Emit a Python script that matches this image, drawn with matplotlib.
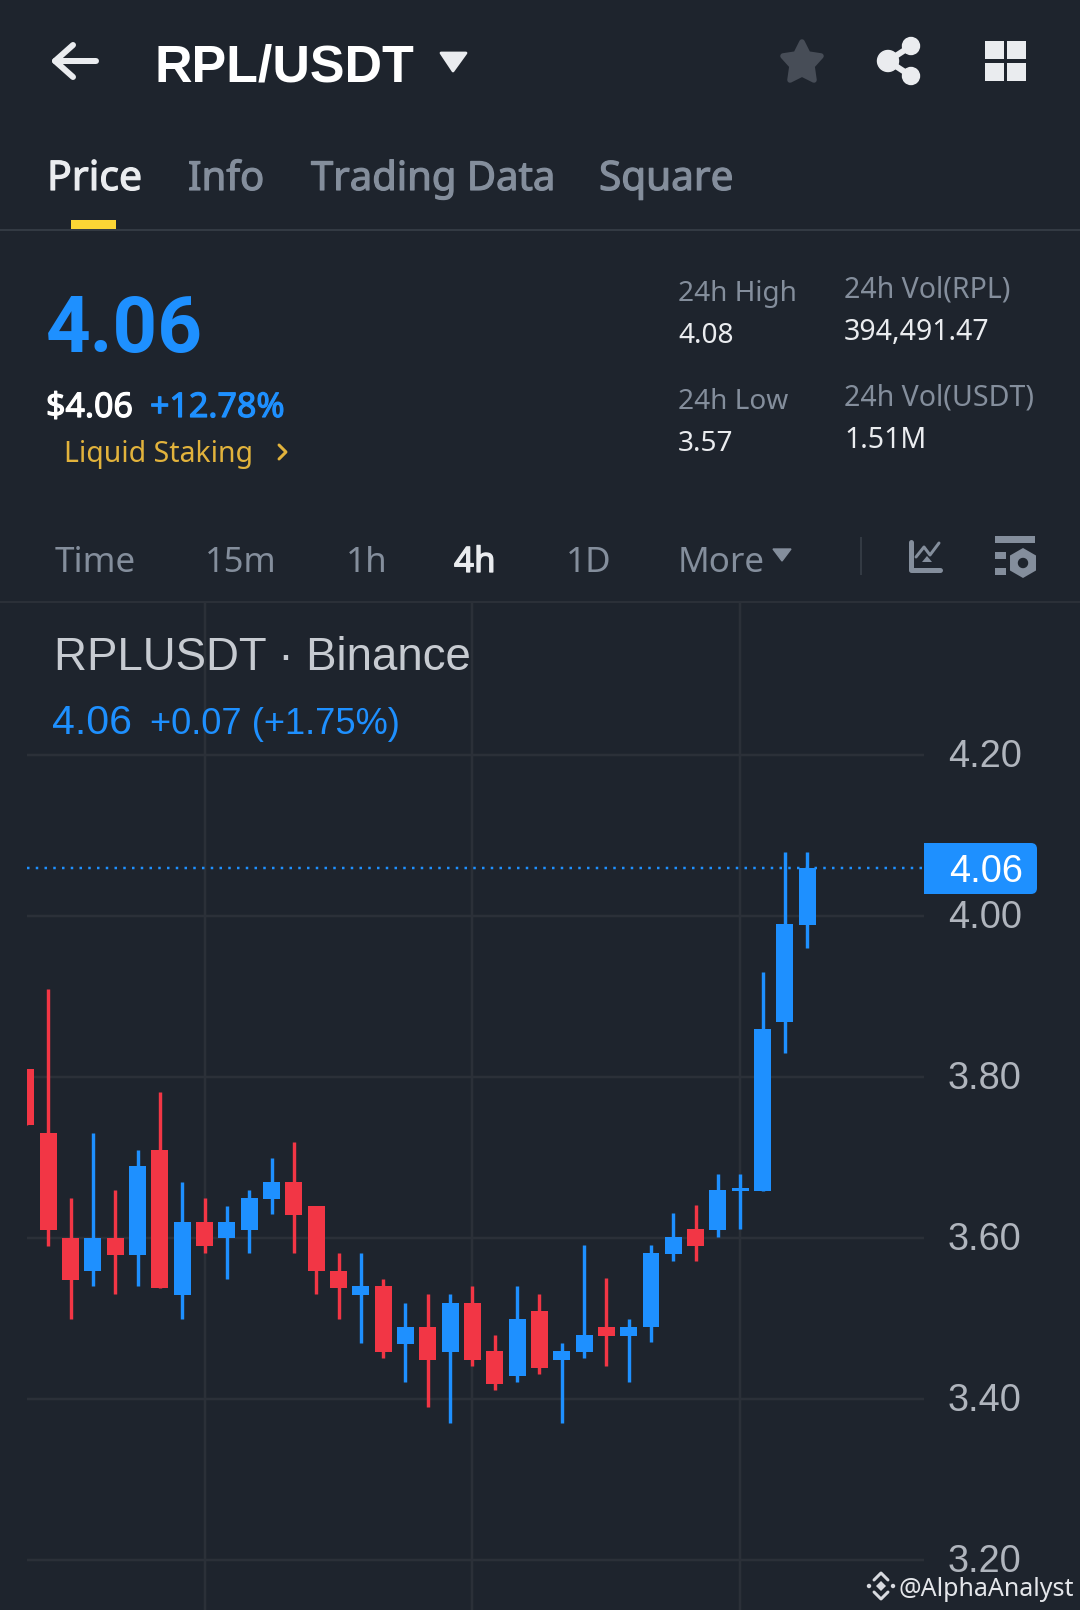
import matplotlib
matplotlib.use("Agg")
import matplotlib.pyplot as plt
import matplotlib.patheffects as pe
from matplotlib.patches import Polygon, Rectangle, Circle, RegularPolygon, FancyBboxPatch
from matplotlib.transforms import ScaledTranslation

# candles
opens = [3.81, 3.73, 3.60, 3.559, 3.60, 3.579, 3.71, 3.529, 3.62, 3.60, 3.61, 3.649,
         3.67, 3.64, 3.559, 3.529, 3.54, 3.469, 3.49, 3.459, 3.52, 3.46, 3.429, 3.51,
         3.449, 3.459, 3.49, 3.479, 3.489, 3.58, 3.611, 3.61, 3.658, 3.659, 3.869, 3.989]
closes = [3.74, 3.61, 3.548, 3.60, 3.579, 3.69, 3.538, 3.62, 3.59, 3.62, 3.65, 3.67,
          3.629, 3.559, 3.538, 3.54, 3.459, 3.49, 3.449, 3.52, 3.449, 3.419, 3.50, 3.439,
          3.46, 3.48, 3.479, 3.49, 3.581, 3.601, 3.59, 3.66, 3.662, 3.86, 3.99, 4.06]
highs = [3.81, 3.91, 3.65, 3.73, 3.66, 3.71, 3.781, 3.67, 3.65, 3.64, 3.66, 3.70,
         3.72, 3.64, 3.581, 3.581, 3.549, 3.52, 3.53, 3.53, 3.54, 3.48, 3.54, 3.53,
         3.47, 3.591, 3.55, 3.50, 3.591, 3.631, 3.641, 3.68, 3.68, 3.931, 4.08, 4.08]
lows = [3.74, 3.59, 3.50, 3.54, 3.53, 3.54, 3.538, 3.50, 3.581, 3.549, 3.581, 3.63,
        3.581, 3.53, 3.50, 3.47, 3.451, 3.421, 3.39, 3.37, 3.441, 3.411, 3.421, 3.431,
        3.37, 3.451, 3.441, 3.421, 3.471, 3.571, 3.571, 3.601, 3.611, 3.659, 3.83, 3.961]
price_ticks = [3.20, 3.40, 3.60, 3.80, 4.00, 4.20]
day_ticks = [8, 20, 32]
last_price = 4.06

BG = "#1E242D"
BLUE = "#1E90FF"
RED = "#F23645"
GREY = "#848E9C"
WHITE = "#EAECEF"
GRID = "#2B3038"

W, H = 1080, 1610
fig = plt.figure(figsize=(W / 100, H / 100), dpi=100, facecolor=BG)


def px(v):
    return v * 0.72


def pixel_axes(z):
    a = fig.add_axes([0, 0, 1, 1], facecolor="none", zorder=z)
    a.set_xlim(0, W)
    a.set_ylim(H, 0)
    a.axis("off")
    return a


# overlays in screenshot pixels for the app chrome, one under the chart, one over it
ui = pixel_axes(1)
top = pixel_axes(3)

# chart axes, placed so that the price scale lands on the pixel grid of the screenshot
ax = fig.add_axes([27 / W, 0, (924 - 27) / W, (H - 603) / H], facecolor="none", zorder=2)
ax.set_xlim(0.045, 40.23)
ax.set_ylim(3.138, 4.389)
for s in ax.spines.values():
    s.set_visible(False)
ax.set_axisbelow(True)
ax.grid(True, color=GRID, lw=px(2.5))
ax.set_xticks(day_ticks)
ax.set_xticklabels([])
ax.set_yticks(price_ticks)
ax.set_yticklabels([f"{p:.2f}" for p in price_ticks], family="Liberation Sans",
                   fontsize=px(38), color="#B0B5BD")
ax.yaxis.tick_right()
ax.tick_params(length=0, pad=px(24))
up = ScaledTranslation(0, 2.5 / 100, fig.dpi_scale_trans)
for t in ax.get_yticklabels():
    t.set_transform(t.get_transform() + up)
ax.axhline(last_price, color=BLUE, lw=px(2.5), ls=(0, (1, 2.5)), zorder=2)

idx = list(range(len(opens)))
colors = [BLUE if c >= o else RED for o, c in zip(opens, closes)]
ax.vlines(idx, lows, highs, colors=colors, lw=px(3.4), zorder=3)
ax.bar(idx, [abs(c - o) for o, c in zip(opens, closes)], bottom=[min(o, c) for o, c in zip(opens, closes)],
       width=0.76, color=colors, lw=0, zorder=4)


def txt(x, y, s, size, color=WHITE, stroke=0, family="Noto Sans", weight="normal", on=None):
    t = (on or ui).text(x, y, s, fontsize=px(size), color=color, family=family, fontweight=weight,
                        va="baseline", ha="left")
    if stroke:
        t.set_path_effects([pe.withStroke(linewidth=px(stroke), foreground=color)])
    return t


def line(xs, ys, color=WHITE, w=5):
    ui.plot(xs, ys, color=color, lw=px(w), solid_capstyle="round", solid_joinstyle="round")


# header
line([55, 96], [61, 61], w=6)
line([73, 55, 73], [45, 61, 77], w=6)
txt(154, 82, "RPL/USDT", 52, "white", family="Liberation Sans", weight="bold")
ui.add_patch(Polygon([[441, 53], [466, 53], [453, 71]], closed=True, color=WHITE, lw=2, joinstyle="round"))
star = [[802, 42], [808, 54], [821, 56], [812, 66], [814, 80], [802, 74], [790, 80], [792, 66], [783, 56], [796, 54]]
ui.add_patch(Polygon(star, closed=True, color="#474D57", lw=4, joinstyle="round"))
line([888, 911], [61, 46], w=6)
line([888, 911], [61, 76], w=6)
ui.add_patch(Circle((888, 61), 10.5, color=WHITE))
ui.add_patch(Circle((911, 46), 8.5, color=WHITE))
ui.add_patch(Circle((911, 76), 8.5, color=WHITE))
for gx in (985, 1007):
    for gy in (41, 63):
        ui.add_patch(Rectangle((gx, gy), 18.5, 18, color=WHITE, lw=0))

# tabs
txt(47, 190, "Price", 41, WHITE, stroke=1.2)
txt(188, 190, "Info", 40, GREY, stroke=1.2)
txt(311, 190, "Trading Data", 40, GREY, stroke=1.2)
txt(599, 190, "Square", 40.5, GREY, stroke=1.2)
ui.add_patch(Rectangle((71, 220), 45, 9, color="#FCD535", lw=0))
ui.plot([0, W], [230, 230], color="#333A43", lw=px(2))

# price block
txt(46, 352, "4.06", 78, BLUE, family="Roboto", weight="bold")
txt(46, 417, "$4.06", 34, "white", stroke=1.2)
txt(150, 417, "+12.78%", 34, BLUE, stroke=1.2)
txt(64, 462, "Liquid Staking", 28.5, "#E2B33C")
line([279, 286, 279], [445, 452, 459], color="#E2B33C", w=3)

txt(678, 301, "24h High", 28, GREY)
txt(678, 343, "4.08", 28, WHITE)
txt(844, 297, "24h Vol(RPL)", 28.5, GREY)
txt(844, 340, "394,491.47", 28.5, WHITE)
txt(678, 409, "24h Low", 28, GREY)
txt(678, 451, "3.57", 28, WHITE)
txt(844, 405, "24h Vol(USDT)", 28.5, GREY)
txt(844, 448, "1.51M", 28.5, WHITE)

# interval row
txt(55, 572, "Time", 35, GREY)
txt(205, 572, "15m", 34.5, GREY)
txt(346, 572, "1h", 35, GREY)
txt(454, 572, "4h", 35, WHITE, stroke=1.3)
txt(566, 572, "1D", 35, GREY)
txt(678, 572, "More", 35, GREY)
ui.add_patch(Polygon([[773, 549], [791, 549], [782, 561]], closed=True, color=GREY, lw=1))
ui.plot([861, 861], [538, 574], color="#333A43", lw=px(2))
line([911, 911, 940], [542, 570, 570], color=GREY, w=5)
line([916, 924, 930, 939], [557, 547, 555, 543], color=GREY, w=3)
ui.add_patch(Polygon([[922, 562], [927, 556], [932, 562]], closed=True, color=GREY, lw=0))
ui.add_patch(Rectangle((995, 536), 40, 7, color=GREY, lw=0))
ui.add_patch(Rectangle((995, 552), 11, 7, color=GREY, lw=0))
ui.add_patch(Rectangle((995, 568), 11, 7, color=GREY, lw=0))
ui.add_patch(RegularPolygon((1023, 563), 6, radius=15, color=GREY, lw=0))
ui.add_patch(Circle((1023, 563), 4.5, color=BG))
ui.plot([0, W], [602, 602], color=GRID, lw=px(2))

# chart titles
txt(54, 670, "RPLUSDT · Binance", 45.7, "#C7CBD1", family="Liberation Sans", on=top)
txt(52, 734, "4.06", 41, BLUE, family="Liberation Sans", on=top)
txt(150, 734, "+0.07 (+1.75%)", 36.2, BLUE, family="Liberation Sans", on=top)

# last price tag
ui.add_patch(Rectangle((924, 843), 20, 51, color=BLUE, lw=0))
ui.add_patch(FancyBboxPatch((932, 848), 100, 41, boxstyle="round,pad=5,rounding_size=6", color=BLUE, lw=0))
price_tag = ax.text((949 - 27) / (924 - 27), last_price, f"{last_price:.2f}", transform=ax.get_yaxis_transform(),
                    family="Liberation Sans", fontsize=px(38), color="white", va="center_baseline", ha="left",
                    zorder=9, clip_on=False)

# watermark
cx, cy = 881, 1586
ui.add_patch(Polygon([[cx, cy - 5], [cx + 5, cy], [cx, cy + 5], [cx - 5, cy]], closed=True, color="#D8DADF", lw=0))
line([cx - 7, cx, cx + 7], [cy - 6, cy - 13, cy - 6], color="#D8DADF", w=3)
line([cx - 7, cx, cx + 7], [cy + 6, cy + 13, cy + 6], color="#D8DADF", w=3)
ui.add_patch(Circle((cx - 12, cy), 2.2, color="#D8DADF", lw=0))
ui.add_patch(Circle((cx + 12, cy), 2.2, color="#D8DADF", lw=0))
txt(898, 1596, "@AlphaAnalyst", 25, "#E4E6EA", on=top)

fig.savefig("out.png", dpi=100, facecolor=BG)
